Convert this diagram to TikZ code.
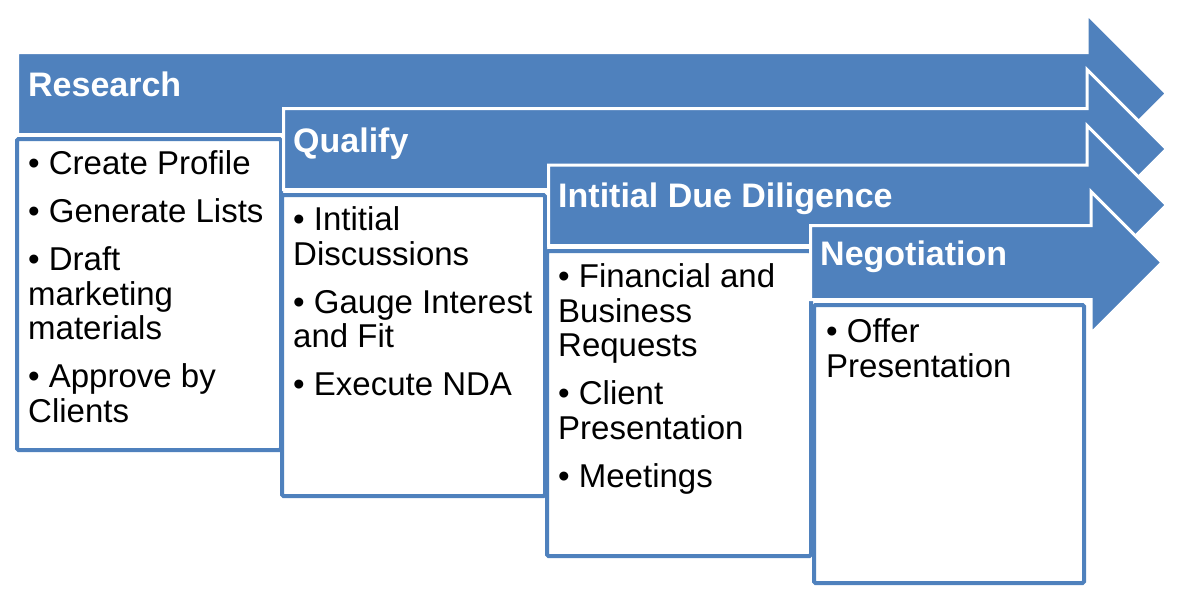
\documentclass[tikz,border=0pt]{standalone}
\usepackage{fontspec}
\setmainfont{Liberation Sans}
\definecolor{ablue}{HTML}{4F81BD}
\tikzset{
  stagearrow/.style={fill=ablue, draw=white, line width=3pt, line join=miter},
  stagebox/.style={fill=white, draw=ablue, line width=4pt, rounded corners=1.5pt},
  headtext/.style={anchor=base west, inner sep=0pt, text=white, font=\fontsize{34}{40}\selectfont\bfseries},
  bodytext/.style={anchor=base west, inner sep=0pt, align=left, font=\fontsize{33}{34.5}\selectfont},
}
\newcommand{\parskipgap}{\\[13.5pt]}
\begin{document}
\begin{tikzpicture}[x=1pt,y=-1pt]
\useasboundingbox (0,0) rectangle (1179,600);
% Stage 1
\draw[stagearrow] (17.5,52.5) -- (1087,52.5) -- (1087,14) -- (1166.5,93.5) -- (1087,173) -- (1087,134.5) -- (17.5,134.5) -- cycle;
\node[headtext] (h1) at (28,96) {Research};
\draw[stagebox] (17,139) rectangle (281,450);
% anchor at the baseline of the last line
\node[bodytext] (t1) at (28,422) {• Create Profile\parskipgap • Generate Lists\parskipgap • Draft\\marketing\\materials\parskipgap • Approve by\\Clients};
% Stage 2
\draw[stagearrow] (283.5,108.5) -- (1087,108.5) -- (1087,69.5) -- (1166.5,149) -- (1087,228.5) -- (1087,189.5) -- (283.5,189.5) -- cycle;
\node[headtext] (h2) at (293,152) {Qualify};
\draw[stagebox] (282,195) rectangle (545,496);
\node[bodytext] (t2) at (293,395.5) {• Intitial\\Discussions\parskipgap • Gauge Interest\\and Fit\parskipgap • Execute NDA};
% Stage 3
\draw[stagearrow] (548.5,165) -- (1087,165) -- (1087,125.5) -- (1166.5,205) -- (1087,284.5) -- (1087,245.5) -- (548.5,245.5) -- cycle;
\node[headtext] (h3) at (558,207) {Intitial Due Diligence};
\draw[stagebox] (547,251) rectangle (811,556);
\node[bodytext] (t3) at (558,487) {• Financial and\\Business\\Requests\parskipgap • Client\\Presentation\parskipgap • Meetings};
% Stage 4
\draw[stagearrow] (810.5,225.5) -- (1091,225.5) -- (1091,191.5) -- (1162,262.5) -- (1091,333.5) -- (1091,299.5) -- (810.5,299.5) -- cycle;
\node[headtext] (h4) at (820,265) {Negotiation};
\draw[stagebox] (814,305) rectangle (1084,583);
\node[bodytext] (t4) at (826,377) {• Offer\\Presentation};
\end{tikzpicture}
\end{document}
